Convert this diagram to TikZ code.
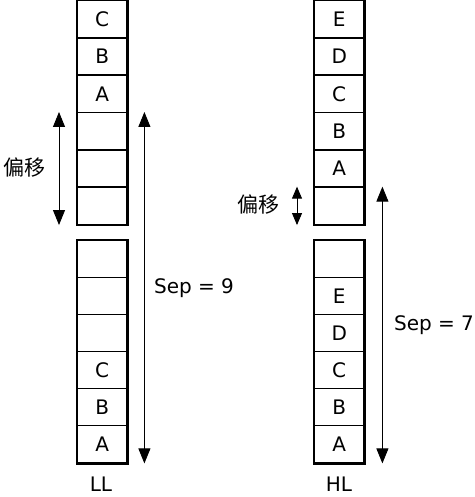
\documentclass[tikz,border=0pt]{standalone}
\usepackage{fontspec}
\setmainfont{DejaVu Sans}
\newfontfamily\cjk{Noto Sans CJK SC}
\usetikzlibrary{arrows.meta}
\begin{document}
\begin{tikzpicture}[x=1pt,y=-1pt,
  cell/.style={draw, line width=1.4pt, minimum width=49pt, minimum height=37pt, inner sep=0pt, font=\fontsize{20}{20}\selectfont, anchor=north west},
  frame/.style={draw, line width=2.6pt},
  big/.style={{Triangle[width=12pt,length=15pt]}-{Triangle[width=12pt,length=15pt]}, line width=0.9pt},
  small/.style={{Triangle[width=10pt,length=12pt]}-{Triangle[width=10pt,length=12pt]}, line width=0.9pt},
  lbl/.style={font=\fontsize{20}{20}\selectfont, inner sep=0pt},
  cjklbl/.style={font=\cjk\fontsize{21}{21}\selectfont, inner sep=0pt}]
\useasboundingbox (0,0) rectangle (474,497);
% LL column
\foreach \t [count=\i] in {C,B,A,{},{},{}}
  \node[cell] (llu\i) at (77,{(\i-1)*37.33}) {\t};
\foreach \t [count=\i] in {{},{},{},C,B,A}
  \node[cell] (lll\i) at (77,{240+(\i-1)*37}) {\t};
\draw[frame] (llu1.north west) rectangle (llu6.south east);
\draw[frame] (lll1.north west) rectangle (lll6.south east);
% HL column
\foreach \t [count=\i] in {E,D,C,B,A,{}}
  \node[cell] (hlu\i) at (314,{(\i-1)*37.33}) {\t};
\foreach \t [count=\i] in {{},E,D,C,B,A}
  \node[cell] (hll\i) at (314,{240+(\i-1)*37}) {\t};
\draw[frame] (hlu1.north west) rectangle (hlu6.south east);
\draw[frame] (hll1.north west) rectangle (hll6.south east);
% arrow end points
\path (llu4.north west) ++(-18,0) coordinate (lo1);
\path (llu6.south west) ++(-18,0) coordinate (lo2);
\path (llu4.north east) ++(17,0) coordinate (ls1);
\path (lll6.south east) ++(17,0) coordinate (ls2);
\path (hlu6.north west) ++(-17,0) coordinate (ho1);
\path (hlu6.south west) ++(-17,0) coordinate (ho2);
\path (hlu6.north east) ++(18,0) coordinate (hs1);
\path (hll6.south east) ++(18,0) coordinate (hs2);
\draw[big] (lo1) -- (lo2);
\draw[big] (ls1) -- (ls2);
\draw[small] (ho1) -- (ho2);
\draw[big] (hs1) -- (hs2);
% labels
\node[cjklbl] (llofs) at (24,168) {偏移};
\node[lbl] (llsep) at (194,288) {Sep = 9};
\node[cjklbl] (hlofs) at (258,205) {偏移};
\node[lbl] (hlsep) at (434,325) {Sep = 7};
\node[lbl] (llname) at (101,484) {LL};
\node[lbl] (hlname) at (339,484) {HL};
\end{tikzpicture}
\end{document}
